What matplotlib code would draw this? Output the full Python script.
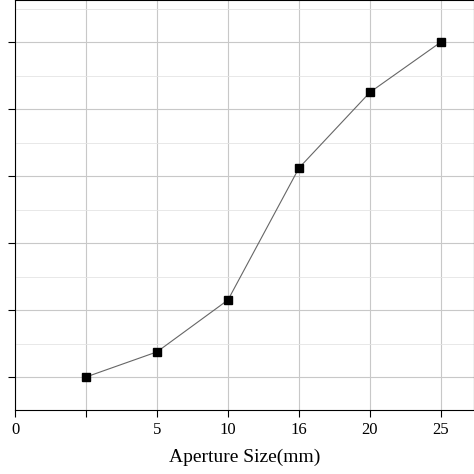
import matplotlib
matplotlib.use("Agg")
import matplotlib.pyplot as plt

x_pos = [0, 1, 2, 3, 4, 5, 6]
x_labels = ["0", "", "5", "10", "16", "20", "25"]
pt_pos = [1, 2, 3, 4, 5, 6]
passing = [0, 7.5, 23, 62.4, 85, 100]
y_ticks = [0, 20, 40, 60, 80, 100]

plt.rcParams['font.family'] = ['Liberation Serif', 'DejaVu Serif']
fig = plt.figure(figsize=(4.74, 4.74), dpi=100)
ax = fig.add_axes([15/474, 64/474, 459/474, 410/474])
ax.set_xlim(0, 459/71)
ax.set_ylim(-33/67*20, 377/67*20)
ax.plot(pt_pos, passing, color='#666666', lw=0.8, marker='s', ms=6,
        mfc='black', mec='black')
ax.set_xticks(x_pos)
ax.set_xticklabels(x_labels, fontsize=12)
ax.set_yticks(y_ticks)
ax.set_yticklabels([""] * len(y_ticks))
ax.set_yticks([10, 30, 50, 70, 90, 110], minor=True)
ax.grid(True, which='major', color='#c8c8c8', lw=0.8)
ax.grid(True, which='minor', axis='y', color='#e4e4e4', lw=0.6)
ax.tick_params(axis='y', which='minor', length=0)
ax.tick_params(direction='out', length=5)
ax.set_axisbelow(True)
ax.set_xlabel("Aperture Size(mm)", fontsize=14, labelpad=8)
fig.savefig("out.png", dpi=100)
